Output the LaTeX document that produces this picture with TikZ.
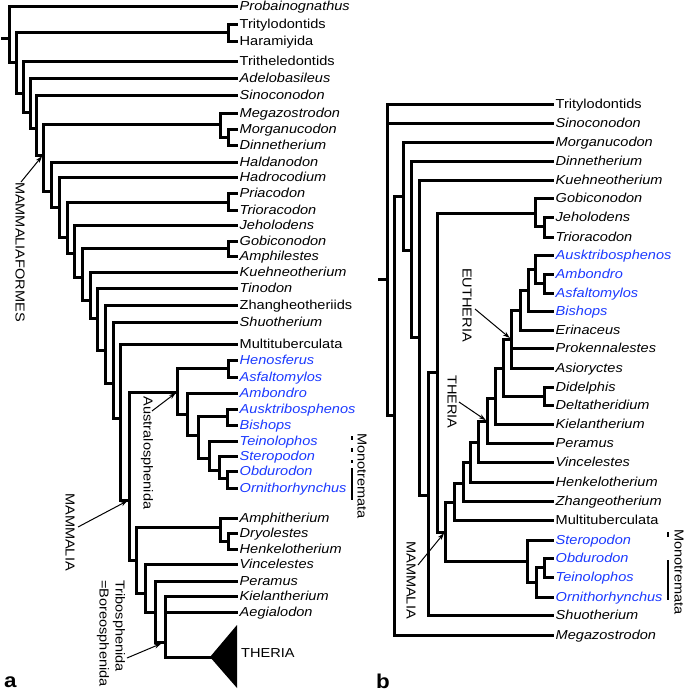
\documentclass[tikz,border=0pt]{standalone}
\usepackage{fontspec}
\setmainfont{Liberation Sans}[FakeStretch=1.12]
\usetikzlibrary{arrows.meta}
\definecolor{myblue}{RGB}{28,58,255}
\newcommand\labfont{\fontsize{13}{15}\selectfont}
\begin{document}
\begin{tikzpicture}[x=1pt,y=-1pt,
  br/.style={line width=3pt, line cap=rect, line join=miter},
  leaflab/.style={anchor=base west, inner sep=0pt, xshift=3.5pt, yshift=-4.6pt, font=\labfont},
  up/.style={},
  it/.style={font=\labfont\itshape},
  bl/.style={font=\labfont\itshape, text=myblue},
  grp/.style={rotate=-90, inner sep=0pt, font=\labfont},
  ann/.style={line width=1pt, -{Stealth[length=7pt,width=4.5pt]}, shorten >=1.5pt},
  mbar/.style={line width=1.1pt}
]
\fill[white] (0,0) rectangle (685,691);
\useasboundingbox (0,0) rectangle (685,691);

% ---------------- left tree: tips
\foreach \n/\y/\s/\t in {
 LProb/6/it/Probainognathus, LTrit/24/up/Tritylodontids, LHara/41/up/Haramiyida,
 LTrih/61/up/Tritheledontids, LAdel/78/it/Adelobasileus, LSino/95/it/Sinoconodon,
 LMega/113/it/Megazostrodon, LMorg/129/it/Morganucodon, LDinn/145/it/Dinnetherium,
 LHald/162/it/Haldanodon, LHadr/177/it/Hadrocodium, LPria/193/it/Priacodon,
 LTrio/210/it/Trioracodon, LJeho/225/it/Jeholodens, LGobi/241/it/Gobiconodon,
 LAmph/256/it/Amphilestes, LKueh/272/it/Kuehneotherium, LTino/288/it/Tinodon,
 LZhan/305/up/Zhangheotheriids, LShuo/322/it/Shuotherium, LMult/344/up/Multituberculata,
 LHeno/360/bl/Henosferus, LAsfa/377/bl/Asfaltomylos, LAmbo/393/bl/Ambondro,
 LAusk/409/bl/Ausktribosphenos, LBish/425/bl/Bishops, LTein/441/bl/Teinolophos,
 LSter/456/bl/Steropodon, LObdu/471/bl/Obdurodon, LOrni/488/bl/Ornithorhynchus,
 LAmpt/518/it/Amphitherium, LDryo/533/it/Dryolestes, LHenk/549/it/Henkelotherium,
 LVinc/564/it/Vincelestes, LPera/581/it/Peramus, LKiel/596/it/Kielantherium,
 LAegi/612/it/Aegialodon}
 {\coordinate (\n) at (236,\y); \node[leaflab,\s] (t\n) at (\n) {\t};}

% left internal nodes
\foreach \n/\x/\y in {
 Lroot/2/38, L0/9/38, L1/16/62, TH/228/32, L2/23/93, L3/30/112, L4/36/128,
 L5/43/155, MMD/220/124, MD/228/137, L6/51/191, L7/59/207, L8/67/237, PT/228/202,
 L9/74/253, L10/82/277, GA/228/248, L11/90/300, L12/97/318, L13/105/350,
 L14/113/383, L15/120/418, Mam/129/500, Aus/177/392, HA/228/368, Aus2/187/414,
 Aus3/198/435, AB/227/416, Mo1/209/458, Mo2/219/470, Mo3/227/478,
 Lb/136/560, ADH/220/527, DH/228/541, Lc/145/593, Ld/155/612, Trib/165/642,
 Ther/210/657, ThA/237/625, ThB/237/688}
 {\coordinate (\n) at (\x,\y);}

\draw[br] (Lroot) -- (L0);
\foreach \p/\c in {
 L0/LProb, L0/L1, L1/TH, L1/L2, TH/LTrit, TH/LHara, L2/LTrih, L2/L3, L3/LAdel, L3/L4,
 L4/LSino, L4/L5, L5/MMD, L5/L6, MMD/LMega, MMD/MD, MD/LMorg, MD/LDinn, L6/LHald, L6/L7,
 L7/LHadr, L7/L8, L8/PT, L8/L9, PT/LPria, PT/LTrio, L9/LJeho, L9/L10, L10/GA, L10/L11,
 GA/LGobi, GA/LAmph, L11/LKueh, L11/L12, L12/LTino, L12/L13, L13/LZhan, L13/L14,
 L14/LShuo, L14/L15, L15/LMult, L15/Mam, Mam/Aus, Mam/Lb, Aus/HA, Aus/Aus2,
 HA/LHeno, HA/LAsfa, Aus2/LAmbo, Aus2/Aus3, Aus3/AB, Aus3/Mo1, AB/LAusk, AB/LBish,
 Mo1/LTein, Mo1/Mo2, Mo2/LSter, Mo2/Mo3, Mo3/LObdu, Mo3/LOrni, Lb/ADH, Lb/Lc,
 ADH/LAmpt, ADH/DH, DH/LDryo, DH/LHenk, Lc/LVinc, Lc/Ld, Ld/LPera, Ld/Trib,
 Trib/LKiel, Trib/LAegi, Trib/Ther}
 {\draw[br] (\p) |- (\c);}
\fill (Ther) -- (ThA) -- (ThB) -- cycle;
\node[anchor=base west, inner sep=0pt, font=\labfont] (gThe) at (241,657) {THERIA};

% left group labels and arrows
\node[grp] (gAmf) at (20,252) {MAMMALIAFORMES};
\node[grp] (gAus) at (147,453) {Australosphenida};
\node[grp] (gMam) at (70,532) {MAMMALIA};
\node[grp, anchor=west] (gTri) at (119,580) {Tribosphenida};
\node[grp, anchor=west] (gBor) at (103,580) {=Boreosphenida};
\node[grp] (gMon) at (362,476) {Monotremata};
\coordinate (amfS) at (21,182);
\coordinate (ausS) at (152,411);
\coordinate (mamS) at (78,527);
\coordinate (triS) at (127,658);
\draw[ann] (amfS) -- (L5);
\draw[ann] (ausS) -- (Aus);
\draw[ann] (mamS) -- (Mam);
\draw[ann, shorten >=4pt] (triS) -- (Trib);
\coordinate (lb1) at (352,436); \coordinate (lb2) at (352,463);
\coordinate (lb3) at (352,468); \coordinate (lb4) at (352,500);
\draw[mbar, dash pattern=on 4pt off 8pt] (lb1) -- (lb2);
\draw[mbar] (lb3) -- (lb4);

% ---------------- right tree: tips
\foreach \n/\y/\s/\t in {
 RTrit/104/up/Tritylodontids, RSino/123/it/Sinoconodon, RMorg/142/it/Morganucodon,
 RDinn/161/it/Dinnetherium, RKueh/180/it/Kuehneotherium, RGobi/198/it/Gobiconodon,
 RJeho/217/it/Jeholodens, RTrio/237/it/Trioracodon, RAusk/255/bl/Ausktribosphenos,
 RAmbo/274/bl/Ambondro, RAsfa/293/bl/Asfaltomylos, RBish/311/bl/Bishops,
 RErin/330/it/Erinaceus, RProk/348/it/Prokennalestes, RAsio/368/it/Asioryctes,
 RDide/387/it/Didelphis, RDelt/405/it/Deltatheridium, RKiel/424/it/Kielantherium,
 RPera/443/it/Peramus, RVinc/462/it/Vincelestes, RHenk/482/it/Henkelotherium,
 RZhan/501/it/Zhangeotherium, RMult/520/up/Multituberculata, RSter/540/bl/Steropodon,
 RObdu/558/bl/Obdurodon, RTein/577/bl/Teinolophos, ROrni/597/bl/Ornithorhynchus,
 RShuo/615/it/Shuotherium, RMega/635/it/Megazostrodon}
 {\coordinate (\n) at (552,\y); \node[leaflab,\s] (t\n) at (\n) {\t};}

\foreach \n/\x/\y in {
 Rroot/379/279, RA/387/279, RB/394/415, RC/403/196, RD/411/250, RE/419/337,
 RF/428/495, RG/437/372, GJT/535/213, JT/544/226, RH/445/532, Mono/527/561,
 M2/536/582, OT/544/567, X7/454/502, X6/463/483, X5/470/462, X4/478/442,
 X3/487/421, X2/495/398, X1/503/368, DD/544/396, Eu/511/339, E1/520/310,
 E2/528/290, E3/535/269, E4/544/283}
 {\coordinate (\n) at (\x,\y);}

\draw[br] (Rroot) -- (RA);
\foreach \p/\c in {
 RA/RTrit, RA/RSino, RA/RB, RB/RC, RB/RMega, RC/RMorg, RC/RD, RD/RDinn, RD/RE,
 RE/RKueh, RE/RF, RF/RG, RF/RShuo, RG/GJT, RG/RH, GJT/RGobi, GJT/JT, JT/RJeho,
 JT/RTrio, RH/X7, RH/Mono, Mono/RSter, Mono/M2, M2/OT, M2/ROrni, OT/RObdu,
 OT/RTein, X7/X6, X7/RMult, X6/X5, X6/RZhan, X5/X4, X5/RHenk, X4/X3, X4/RVinc,
 X3/X2, X3/RPera, X2/X1, X2/RKiel, X1/Eu, X1/DD, DD/RDide, DD/RDelt, Eu/E1,
 Eu/RProk, Eu/RAsio, E1/E2, E1/RErin, E2/E3, E2/RBish, E3/RAusk, E3/E4,
 E4/RAmbo, E4/RAsfa}
 {\draw[br] (\p) |- (\c);}

\node[grp] (rEu) at (467,305) {EUTHERIA};
\node[grp] (rTh) at (452,402) {THERIA};
\node[grp] (rMam) at (411,580) {MAMMALIA};
\node[grp] (rMon) at (679,572) {Monotremata};
\coordinate (euS) at (475,309);
\coordinate (thS) at (459,402);
\coordinate (rmS) at (418,565);
\draw[ann] (euS) -- (Eu);
\draw[ann] (thS) -- (X3);
\draw[ann] (rmS) -- (RH);
\coordinate (rb1) at (668,532); \coordinate (rb2) at (668,537);
\coordinate (rb3) at (668,560); \coordinate (rb4) at (668,600);
\draw[mbar] (rb1) -- (rb2);
\draw[mbar] (rb3) -- (rb4);

% panel letters
\node[anchor=base west, inner sep=0pt, font=\fontsize{20}{22}\selectfont\bfseries] (pa) at (4,687) {a};
\node[anchor=base west, inner sep=0pt, font=\fontsize{20}{22}\selectfont\bfseries] (pb) at (376,688) {b};
\end{tikzpicture}
\end{document}
